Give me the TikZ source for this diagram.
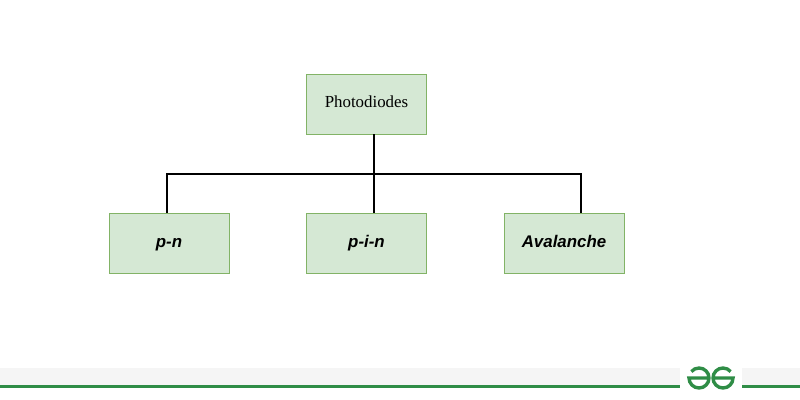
\documentclass[tikz,border=0pt]{standalone}
\usepackage{fontspec}
\setmainfont{Liberation Serif}
\newfontfamily\arialf{Liberation Sans}
\definecolor{boxfill}{HTML}{D5E8D4}
\definecolor{boxline}{HTML}{82B366}
\definecolor{gfg}{HTML}{2F8D46}
\begin{document}
\begin{tikzpicture}[x=0.025cm,y=-0.025cm,
  box/.style={draw=boxline,fill=boxfill,minimum width=3cm,minimum height=1.5cm,inner sep=0pt,text height=1.6ex,text depth=0.4ex},
  lab/.style={font=\arialf\bfseries\itshape\fontsize{12}{14}\selectfont},
  conn/.style={line width=1.5pt,black}]
\useasboundingbox (0,0) rectangle (800,400);
\fill[white] (0,0) rectangle (800,400);
\node[box,font=\fontsize{12}{14}\selectfont] (top) at (366.5,104) {Photodiodes};
\node[box,lab] (a) at (169,243.5) {p-n};
\node[box,lab] (b) at (366.5,243.5) {p-i-n};
\node[box,lab] (c) at (564,243.5) {Avalanche};
\coordinate (j) at (374,174);
\coordinate (jl) at (167,174);
\coordinate (jr) at (581,174);
\draw[conn] (top.south -| j) -- (j);
\draw[conn] (a.north -| jl) -- (jl) -- (jr) -- (c.north -| jr);
\draw[conn] (j) -- (b.north -| j);
\fill[black!4] (0,368) rectangle (680,388);
\fill[black!4] (742,368) rectangle (800,388);
\draw[gfg,line width=1.5pt] (0,386.5) -- (680,386.5);
\draw[gfg,line width=1.5pt] (742,386.5) -- (800,386.5);
% logo
\begin{scope}[gfg,line width=2.4pt]
\draw (709,378) -- (689,378) arc[start angle=180,end angle=-140,radius=10];
\draw (713,378) -- (733,378) arc[start angle=0,end angle=320,radius=10];
\end{scope}
\end{tikzpicture}
\end{document}
